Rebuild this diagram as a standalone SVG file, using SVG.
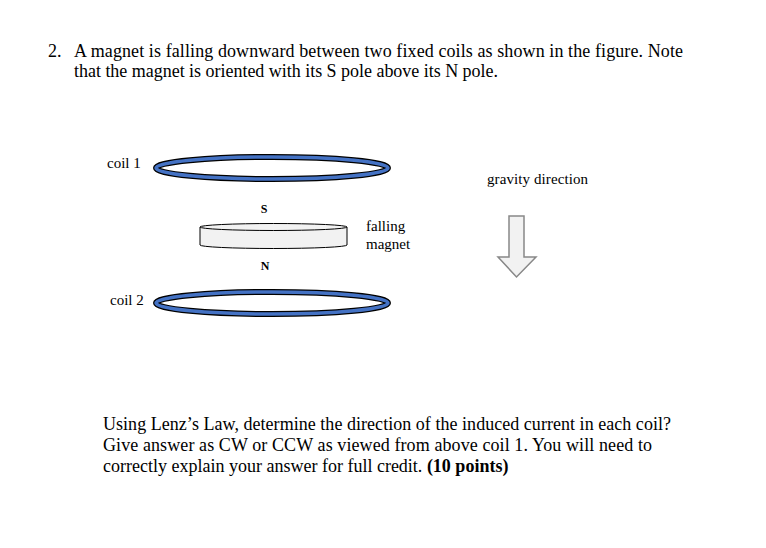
<svg xmlns="http://www.w3.org/2000/svg" width="766" height="548" viewBox="0 0 766 548">
<style>
text{font-family:"Liberation Serif",serif;fill:#000}
.t{font-size:18px}
.s{font-size:15px}
.coilo{fill:none;stroke:#000;stroke-width:6}
.coili{fill:none;stroke:#4472c4;stroke-width:3.5}
</style>
<rect width="766" height="548" fill="#fff"/>
<g id="question">
<text class="t" x="48" y="57">2.</text>
<text class="t" x="74" y="57" textLength="609" lengthAdjust="spacing">A magnet is falling downward between two fixed coils as shown in the figure.  Note</text>
<text class="t" x="74" y="77" textLength="424" lengthAdjust="spacing">that the magnet is oriented with its S pole above its N pole.</text>
</g>
<g id="coil1">
<ellipse class="coilo" cx="272" cy="168" rx="116" ry="11"/>
<ellipse class="coili" cx="272" cy="168" rx="116" ry="11"/>
<text class="s" x="107" y="168">coil 1</text>
</g>
<g id="coil2">
<ellipse class="coilo" cx="272" cy="303" rx="116" ry="11"/>
<ellipse class="coili" cx="272" cy="303" rx="116" ry="11"/>
<text class="s" x="110" y="305">coil 2</text>
</g>
<g id="magnet">
<path d="M200,227 L200,245 A73.5,3.5 0 0 0 347,245 L347,227" fill="#f2f2f2" stroke="#000" stroke-width="1"/>
<ellipse cx="273.5" cy="227" rx="73.5" ry="3.5" fill="#f2f2f2" stroke="#000" stroke-width="1"/>
<text x="264" y="213" font-size="12" font-weight="bold" text-anchor="middle">S</text>
<text x="265" y="270" font-size="12" font-weight="bold" text-anchor="middle">N</text>
<text class="s" x="366" y="231">falling</text>
<text class="s" x="366" y="249">magnet</text>
</g>
<g id="gravity">
<text class="s" x="487" y="184" textLength="101" lengthAdjust="spacing">gravity direction</text>
<path d="M509,216 L524,216 L524,257 L536,257 L516.5,277 L498,257 L509,257 Z" fill="#f2f2f2" stroke="#888" stroke-width="1.5"/>
</g>
<g id="prompt">
<text class="t" x="103" y="430" textLength="568" lengthAdjust="spacing">Using Lenz’s Law, determine the direction of the induced current in each coil?</text>
<text class="t" x="103" y="451" textLength="549" lengthAdjust="spacing">Give answer as CW or CCW as viewed from above coil 1.  You will need to</text>
<text class="t" x="103" y="472">correctly explain your answer for full credit. <tspan font-weight="bold">(10 points)</tspan></text>
</g>
</svg>
